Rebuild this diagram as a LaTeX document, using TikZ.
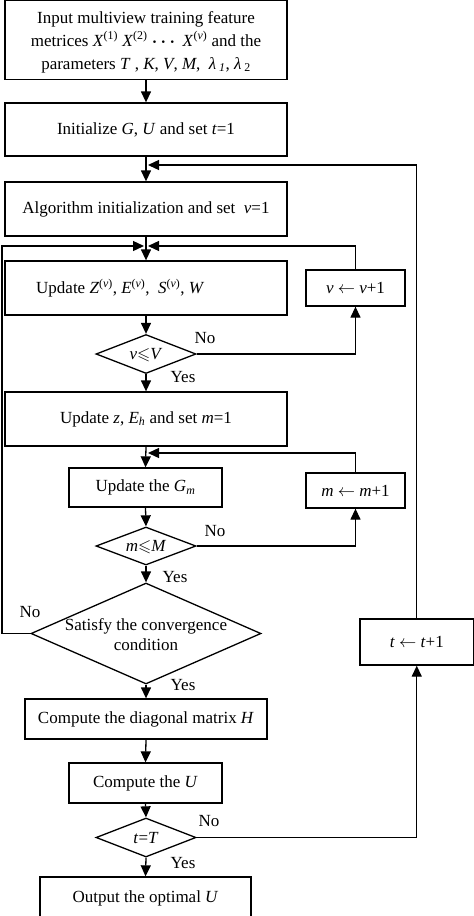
\documentclass[tikz,border=0pt]{standalone}
\usepackage{amsmath,amssymb}
\usepackage{fontspec}
\setmainfont{Liberation Serif}
\usetikzlibrary{arrows.meta,shapes.geometric}
\tikzset{
  every node/.style={font=\fontsize{17}{20}\selectfont},
  box/.style={draw,line width=1.3pt,inner sep=0pt,align=center},
  dia/.style={draw,line width=1.3pt,diamond,inner sep=0pt,aspect=2.5},
  lbl/.style={inner sep=0pt},
  flow/.style={line width=1.3pt,-{Triangle[length=11pt,width=10pt]}},
}
\begin{document}
\begin{tikzpicture}[x=1pt,y=-1pt]
\useasboundingbox (0,0) rectangle (474,916);
% boxes
\node[box,minimum width=282pt,minimum height=79pt] (b1) at (146,40) {};
\node[lbl,align=center,font=\fontsize{17}{23}\selectfont] (b1t) at (146,42)
 {Input multiview training feature\\metrices \textit{X}\textsuperscript{(1)} \textit{X}\textsuperscript{(2)} $\boldsymbol{\cdots}$ \textit{X}\textsuperscript{(\textit{v})} and the\\parameters \textit{T} , \textit{K}, \textit{V}, \textit{M}, \ \textit{λ}\,\textsubscript{\textit{1}}, \textit{λ}\,\textsubscript{2}};
\node[box,minimum width=282pt,minimum height=53pt] (b2) at (146,129.5) {Initialize \textit{G}, \textit{U} and set \textit{t}=1};
\node[box,minimum width=282pt,minimum height=54pt] (b3) at (146,209) {Algorithm initialization and set \ \textit{v}=1};
\node[box,minimum width=282pt,minimum height=54pt] (b4) at (146,288) {};
\node[lbl,anchor=west] (b4t) at (36,288) {Update \textit{Z}\textsuperscript{(\textit{v})}, \textit{E}\textsuperscript{(\textit{v})}, \ \textit{S}\textsuperscript{(\textit{v})}, \textit{W}};
\node[dia,minimum width=100pt,minimum height=39pt] (d1) at (146,354) {};
\node[lbl] (d1t) at (146,355) {\textit{v}$\leqslant$\textit{V}};
\node[box,minimum width=99pt,minimum height=36pt] (vinc) at (355.5,288) {\textit{v} $\leftarrow$ \textit{v}+1};
\node[box,minimum width=282pt,minimum height=54pt] (b5) at (146,419) {Update \textit{z}, \textit{E}\textsubscript{\textit{h}} and set \textit{m}=1};
\node[box,minimum width=153pt,minimum height=39pt] (b6) at (145.5,487.5) {Update the \textit{G}\textsubscript{\textit{m}}};
\node[box,minimum width=99pt,minimum height=35pt] (minc) at (355.5,490.5) {\textit{m} $\leftarrow$ \textit{m}+1};
\node[dia,minimum width=100pt,minimum height=38pt] (d2) at (146,546) {};
\node[lbl] (d2t) at (146,547) {\textit{m}$\leqslant$\textit{M}};
\node[dia,minimum width=230pt,minimum height=101pt] (d3) at (146,633.5) {};
\node[lbl,align=center,font=\fontsize{17}{20}\selectfont] (d3t) at (146,635) {Satisfy the convergence\\condition};
\node[box,minimum width=242pt,minimum height=40pt] (b7) at (146,719) {Compute the diagonal matrix \textit{H}};
\node[box,minimum width=153pt,minimum height=40pt] (b8) at (145.5,783) {Compute the \textit{U}};
\node[dia,minimum width=100pt,minimum height=39pt] (d4) at (146,837.5) {};
\node[lbl] (d4t) at (146,838) {\textit{t}=\textit{T}};
\node[box,minimum width=211pt,minimum height=42pt] (b9) at (145.5,898) {Output the optimal \textit{U}};
\node[box,minimum width=113.5pt,minimum height=46pt] (tinc) at (416.75,642) {\textit{t} $\leftarrow$ \textit{t}+1};
% labels
\node[lbl] (n1) at (205,338) {No};
\node[lbl] (y1) at (183,377) {Yes};
\node[lbl] (n2) at (215,531) {No};
\node[lbl] (y2) at (175,577) {Yes};
\node[lbl] (n3) at (30,612) {No};
\node[lbl] (y3) at (183,685) {Yes};
\node[lbl] (n4) at (209,821) {No};
\node[lbl] (y4) at (183,863) {Yes};
% junctions
\coordinate (j0) at (148,165);
\coordinate (j1r) at (148,246);
\coordinate (j1l) at (144,246);
\coordinate (j2) at (148,453);
\coordinate (lft) at (2,633.5);
% main flow
\draw[flow] (b1.south) -- (b2.north);
\draw[flow] (b2.south) -- (b3.north);
\draw[flow] (b3.south) -- (b4.north);
\draw[flow] (b4.south) -- (d1.north);
\draw[flow] (d1.south) -- (b5.north);
\draw[flow] (b5.south) -- (b6.north);
\draw[flow] (b6.south) -- (d2.north);
\draw[flow] (d2.south) -- (d3.north);
\draw[flow] (d3.south) -- (b7.north);
\draw[flow] (b7.south) -- (b8.north);
\draw[flow] (b8.south) -- (d4.north);
\draw[flow] (d4.south) -- (b9.north);
% loops
\draw[flow] (d1.east) -| (vinc.south);
\draw[flow] (vinc.north) |- (j1r);
\draw[flow] (d2.east) -| (minc.south);
\draw[flow] (minc.north) |- (j2);
\draw[flow] (d3.west) -- (lft) |- (j1l);
\draw[flow] (d4.east) -| (tinc.south);
\draw[flow] (tinc.north) |- (j0);
\end{tikzpicture}
\end{document}
